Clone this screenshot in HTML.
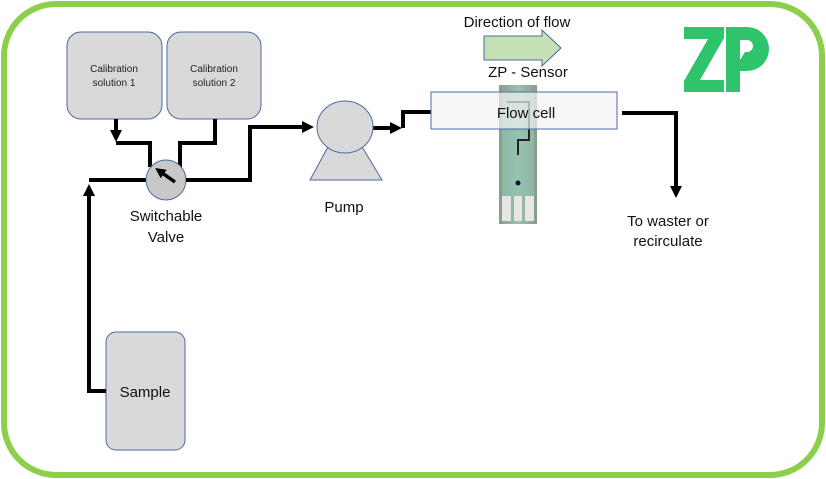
<!DOCTYPE html>
<html><head><meta charset="utf-8"><style>
html,body{margin:0;padding:0;background:#fff;}
svg{display:block;font-family:"Liberation Sans",sans-serif;}
</style></head><body>
<svg width="826" height="479" viewBox="0 0 826 479" xmlns="http://www.w3.org/2000/svg">
<defs>
<marker id="ah" markerWidth="3" markerHeight="3" refX="2" refY="1.5" orient="auto" markerUnits="strokeWidth">
<path d="M0,0 L3,1.5 L0,3 z" fill="#000"/></marker>
<linearGradient id="strip" x1="0" x2="1"><stop offset="0" stop-color="#8a9a88"/><stop offset="0.5" stop-color="#9cc2b0"/><stop offset="1" stop-color="#8a9a88"/></linearGradient>
</defs>
<rect x="4" y="4" width="818" height="471" rx="52" fill="#fff" stroke="#8ccf4c" stroke-width="6"/>
<rect x="67" y="32" width="95" height="87" rx="14" fill="#d9d9d9" stroke="#4a6aa5" stroke-width="1"/>
<rect x="167" y="32" width="94" height="87" rx="14" fill="#d9d9d9" stroke="#4a6aa5" stroke-width="1"/>
<text x="114" y="72" font-size="10" text-anchor="middle" fill="#222">Calibration</text>
<text x="114" y="86" font-size="10" text-anchor="middle" fill="#222">solution 1</text>
<text x="214" y="72" font-size="10" text-anchor="middle" fill="#222">Calibration</text>
<text x="214" y="86" font-size="10" text-anchor="middle" fill="#222">solution 2</text>
<rect x="106" y="332" width="79" height="118" rx="10" fill="#d9d9d9" stroke="#4a6aa5" stroke-width="1"/>
<text x="145" y="397" font-size="15" text-anchor="middle" fill="#111">Sample</text>
<g fill="none" stroke="#000" stroke-width="4">
<polyline points="106,391 89,391 89,188" marker-end="url(#ah)"/>
<polyline points="89,180 250,180 250,127 310,127" marker-end="url(#ah)"/>
<polyline points="116,119 116,138" marker-end="url(#ah)"/>
<polyline points="116,143 150,143 150,167"/>
<polyline points="215,119 215,143 180,143 180,167"/>
<polyline points="373,128 398,128" marker-end="url(#ah)"/>
<polyline points="403,128 403,112 431,112"/>
<polyline points="622,113 676,113 676,194" marker-end="url(#ah)"/>
</g>
<circle cx="166" cy="180" r="20" fill="#c8c8c8" stroke="#4a6aa5" stroke-width="1"/>
<line x1="175" y1="182" x2="158" y2="170" stroke="#000" stroke-width="3.5" marker-end="url(#ah)"/>
<line x1="186" y1="180" x2="250" y2="180" stroke="#000" stroke-width="4"/>
<text x="166" y="221" font-size="15" text-anchor="middle" fill="#111">Switchable</text>
<text x="166" y="242" font-size="15" text-anchor="middle" fill="#111">Valve</text>
<polygon points="329,145 361,145 382,180 310,180" fill="#d9d9d9" stroke="#4a6aa5" stroke-width="1"/>
<ellipse cx="345" cy="127" rx="28" ry="26" fill="#d9d9d9" stroke="#4a6aa5" stroke-width="1"/>
<text x="344" y="212" font-size="15" text-anchor="middle" fill="#111">Pump</text>
<text x="517" y="27" font-size="15" text-anchor="middle" fill="#111">Direction of flow</text>
<polygon points="484,36 542,36 542,30 561,48 542,66 542,60 484,60" fill="#c4e0b4" stroke="#4a6aa5" stroke-width="1"/>
<rect x="499" y="85" width="38" height="139" fill="url(#strip)"/>
<rect x="502" y="91" width="32" height="105" fill="#8fc4b0" opacity="0.6"/>
<rect x="502" y="196" width="9" height="25" fill="#e6e6e6"/><rect x="514" y="196" width="8" height="25" fill="#e6e6e6"/><rect x="525" y="196" width="9" height="25" fill="#e6e6e6"/>
<polyline points="507,102 529,102 529,140 518,140 518,155" fill="none" stroke="#222" stroke-width="2"/>
<circle cx="518" cy="183" r="2.5" fill="#113"/>
<text x="528" y="77" font-size="15" text-anchor="middle" fill="#111">ZP - Sensor</text>
<rect x="431" y="92" width="186" height="37" fill="#f2f2f2" fill-opacity="0.7" stroke="#4a6aa5" stroke-width="1"/>
<text x="526" y="118" font-size="15" text-anchor="middle" fill="#111">Flow cell</text>
<text x="668" y="226" font-size="15" text-anchor="middle" fill="#111">To waster or</text>
<text x="668" y="246" font-size="15" text-anchor="middle" fill="#111">recirculate</text>
<g fill="#2ec46b">
<polygon points="684,27 724,27 724,38 700,80 724,80 724,92 684,92 684,81 708,39 684,39"/>
<path d="M726,27 H747 A22,22 0 0 1 747,71 H740 V92 H726 Z M740,40 V60 L745,52 H747 A6,6 0 0 0 747,40 Z" fill-rule="evenodd"/>
</g>
</svg>
</body></html>
